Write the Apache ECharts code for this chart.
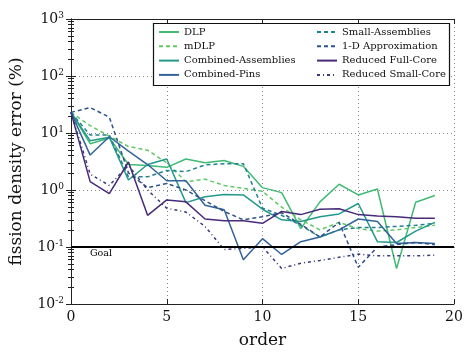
<!DOCTYPE html>
<html><head><meta charset="utf-8">
<script src="https://cdn.jsdelivr.net/npm/echarts@6/dist/echarts.min.js"></script>
<style>html,body{margin:0;padding:0;background:#fff}#c{width:474px;height:355px}</style>
</head><body><div id="c"></div>
<script>
const orders = [0,1,2,3,4,5,6,7,8,9,10,11,12,13,14,15,16,17,18,19];
const dlp = [23, 6.5, 8.2, 2.8, 2.7, 2.5, 3.5, 3.0, 3.3, 2.6, 1.1, 0.9, 0.21, 0.62, 1.26, 0.82, 1.04, 0.042, 0.61, 0.8];
const mdlp = [23, 13.5, 8.8, 5.8, 5.0, 3.0, 1.4, 1.55, 1.2, 1.07, 0.95, 0.5, 0.3, 0.2, 0.27, 0.21, 0.19, 0.2, 0.22, 0.24];
const combinedAssemblies = [23, 7.3, 8.4, 1.5, 2.8, 3.5, 0.6, 0.76, 0.83, 0.82, 0.46, 0.3, 0.28, 0.34, 0.38, 0.58, 0.124, 0.12, 0.19, 0.27];
const combinedPins = [23, 4.1, 8.6, 4.8, 2.8, 1.45, 1.45, 0.54, 0.45, 0.06, 0.14, 0.074, 0.124, 0.15, 0.2, 0.31, 0.28, 0.115, 0.12, 0.115];
const smallAssemblies = [23, 9.2, 9.2, 1.7, 1.7, 2.2, 2.1, 2.75, 2.9, 2.9, 0.48, 0.36, 0.24, 0.15, 0.2, 0.22, 0.22, 0.23, 0.24, 0.26];
const oneDApprox = [23, 28, 19, 2.0, 1.1, 1.3, 1.0, 0.65, 0.42, 0.3, 0.34, 0.4, 0.25, 0.15, 0.27, 0.044, 0.1, 0.11, 0.12, 0.11];
const reducedFullCore = [23, 1.4, 0.86, 3.1, 0.36, 0.67, 0.62, 0.31, 0.29, 0.29, 0.26, 0.42, 0.37, 0.46, 0.47, 0.37, 0.35, 0.34, 0.32, 0.32];
const reducedSmallCore = [23, 1.9, 1.2, 2.7, 1.0, 0.48, 0.41, 0.23, 0.09, 0.095, 0.1, 0.042, 0.052, 0.058, 0.066, 0.075, 0.07, 0.07, 0.07, 0.072];
const goalValue = 0.1;
const goalLabel = 'Goal';
const xLabel = 'order';
const yLabel = 'fission density error (%)';

const FONT = 'DejaVu Serif';
const defs = [
  {name:'DLP', data:dlp, color:'#3fbb74', type:'solid'},
  {name:'mDLP', data:mdlp, color:'#62c865', type:[4,3]},
  {name:'Combined-Assemblies', data:combinedAssemblies, color:'#23998a', type:'solid'},
  {name:'Combined-Pins', data:combinedPins, color:'#33639a', type:'solid'},
  {name:'Small-Assemblies', data:smallAssemblies, color:'#23808d', type:[4,3]},
  {name:'1-D Approximation', data:oneDApprox, color:'#2f5288', type:[4,3]},
  {name:'Reduced Full-Core', data:reducedFullCore, color:'#472a7a', type:'solid'},
  {name:'Reduced Small-Core', data:reducedSmallCore, color:'#383a7e', type:[3,3,1,3]}
];
const series = defs.map(d => ({
  name: d.name, type:'line', symbol:'none', showSymbol:false,
  data: orders.map((o,i)=>[o, d.data[i]]),
  lineStyle:{color:d.color, width:1.5, type:d.type},
  itemStyle:{color:d.color}, z:2, animation:false
}));
series.push({
  name:'goal', type:'line', data:[], silent:true, animation:false,
  markLine:{symbol:'none', silent:true, animation:false,
    data:[{yAxis:goalValue}],
    lineStyle:{color:'#000', width:2, type:'solid'},
    label:{show:true, position:'insideStartBottom', formatter:goalLabel, fontFamily:FONT, fontSize:9.5, color:'#000', distance:[19,2]}
  }
});
const axisLine = {show:true, lineStyle:{color:'#222', width:1}};
const supFmt = v => '10{s|' + Math.round(Math.log10(v)) + '}';
const legendCommon = {orient:'vertical', top:27, padding:0, itemWidth:20, itemHeight:10, itemGap:4.3, z:5,
  itemStyle:{opacity:0},
  textStyle:{fontFamily:FONT, fontSize:10, color:'#111', lineHeight:10}};
const chart = echarts.init(document.getElementById('c'));
chart.setOption({
  animation:false,
  grid:{left:70, right:20, top:19, bottom:51},
  xAxis:[
    {type:'value', min:0, max:20, interval:5, position:'bottom',
     axisLine, axisTick:{inside:true, length:5, lineStyle:{color:'#222'}},
     axisLabel:{fontFamily:FONT, fontSize:14, color:'#111', margin:6},
     splitLine:{show:true, lineStyle:{type:[1,3], color:'#888'}},
     name:xLabel, nameLocation:'middle', nameGap:28,
     nameTextStyle:{fontFamily:FONT, fontSize:17, color:'#111'}},
    {type:'value', min:0, max:20, interval:5, position:'top',
     axisLine, axisTick:{inside:true, length:5, lineStyle:{color:'#222'}},
     axisLabel:{show:false}, splitLine:{show:false}}
  ],
  yAxis:[
    {type:'log', logBase:10, min:0.01, max:1000, position:'left',
     axisLine, axisTick:{inside:true, length:5, lineStyle:{color:'#222'}},
     minorTick:{show:true, splitNumber:9, length:3, lineStyle:{color:'#222'}},
     axisLabel:{fontFamily:FONT, fontSize:14, color:'#111', margin:7, formatter:supFmt,
       rich:{s:{fontFamily:FONT, fontSize:9, color:'#111', verticalAlign:'top', padding:[0,0,7,0]}}},
     splitLine:{show:true, lineStyle:{type:[1,3], color:'#888'}},
     name:yLabel, nameLocation:'middle', nameGap:46,
     nameTextStyle:{fontFamily:FONT, fontSize:17, color:'#111'}},
    {type:'log', logBase:10, min:0.01, max:1000, position:'right',
     axisLine, axisTick:{inside:true, length:5, lineStyle:{color:'#222'}},
     minorTick:{show:true, splitNumber:9, length:3, lineStyle:{color:'#222'}},
     axisLabel:{show:false}, splitLine:{show:false}}
  ],
  legend:[
    Object.assign({data:['DLP','mDLP','Combined-Assemblies','Combined-Pins'], left:158}, legendCommon),
    Object.assign({data:['Small-Assemblies','1-D Approximation','Reduced Full-Core','Reduced Small-Core'], left:316}, legendCommon)
  ],
  graphic:[{type:'rect', z:3, shape:{x:153.5, y:23.5, width:296, height:62},
    style:{fill:'#fff', stroke:'#111', lineWidth:1.2}}],
  series
});
</script></body></html>
